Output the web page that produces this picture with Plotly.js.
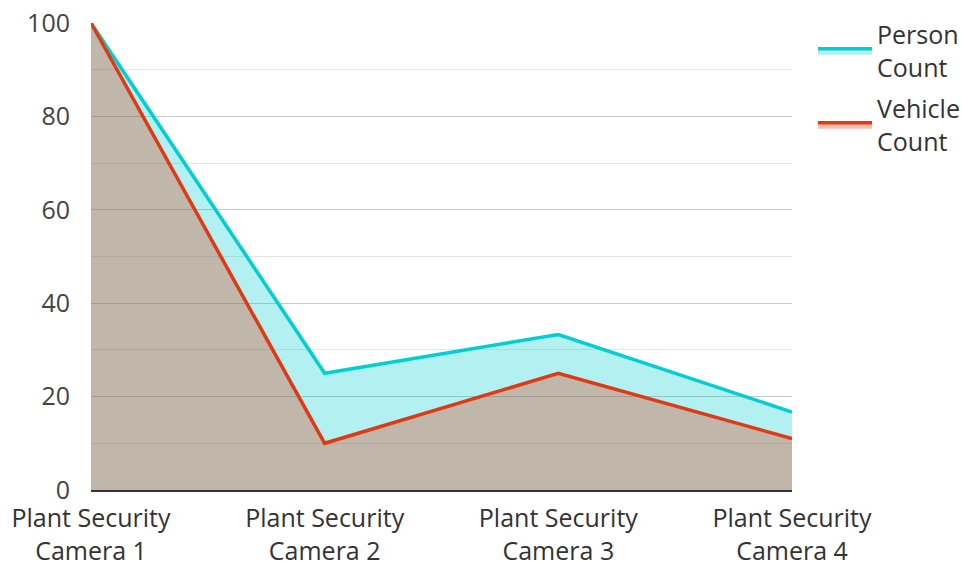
<!DOCTYPE html>
<html><head><meta charset="utf-8">
<script src="https://cdn.plot.ly/plotly-3.0.1.min.js"></script>
<style>html,body{margin:0;padding:0;background:#fff}</style>
</head><body><div id="chart" style="width:962px;height:562px"></div>
<script>
const categories = ["Plant Security<br>Camera 1","Plant Security<br>Camera 2","Plant Security<br>Camera 3","Plant Security<br>Camera 4"];
const personCount = [100, 25, 33.3, 16.7];
const vehicleCount = [100, 10, 25, 11];
const seriesNames = ["Person<br>Count", "Vehicle<br>Count"];

const traces = [
  {x: categories, y: personCount, name: seriesNames[0], type: 'scatter', mode: 'lines', legendgroup: 'a',
   fill: 'tozeroy', fillcolor: 'rgba(0,206,209,0.30)', line: {color: '#00CED1', width: 3.5}},
  {x: categories, y: vehicleCount, name: seriesNames[1], type: 'scatter', mode: 'lines', legendgroup: 'b',
   fill: 'tozeroy', fillcolor: 'rgba(224,58,20,0.32)', line: {color: '#E03A14', width: 3.5}}
];
const layout = {
  width: 962, height: 562,
  margin: {l: 91, r: 170, t: 23, b: 72, autoexpand: false},
  paper_bgcolor: '#fff', plot_bgcolor: '#fff',
  font: {family: 'Open Sans, sans-serif', size: 25, color: '#444'},
  showlegend: true,
  legend: {x: 1.03, y: 1.024, xanchor: 'left', yanchor: 'top', font: {size: 25, color: '#333'},
           traceorder: 'grouped', tracegroupgap: 6, itemwidth: 54},
  xaxis: {type: 'category', range: [0, 3], showgrid: false, showline: true, linecolor: '#333', linewidth: 2,
          ticks: '', tickfont: {size: 25, color: '#333'}, zeroline: false, automargin: false, ticklabelstandoff: 5},
  yaxis: {range: [0, 100], dtick: 20, showgrid: true, gridcolor: '#c8c8c8', gridwidth: 1, automargin: false,
          zeroline: false, showline: false, ticks: '', ticklabelstandoff: 20,
          tickfont: {size: 25, color: '#444'},
          minor: {dtick: 10, showgrid: true, gridcolor: '#e6e6e6', gridwidth: 1}}
};
Plotly.newPlot('chart', traces, layout, {displayModeBar: false, staticPlot: true});
</script></body></html>
